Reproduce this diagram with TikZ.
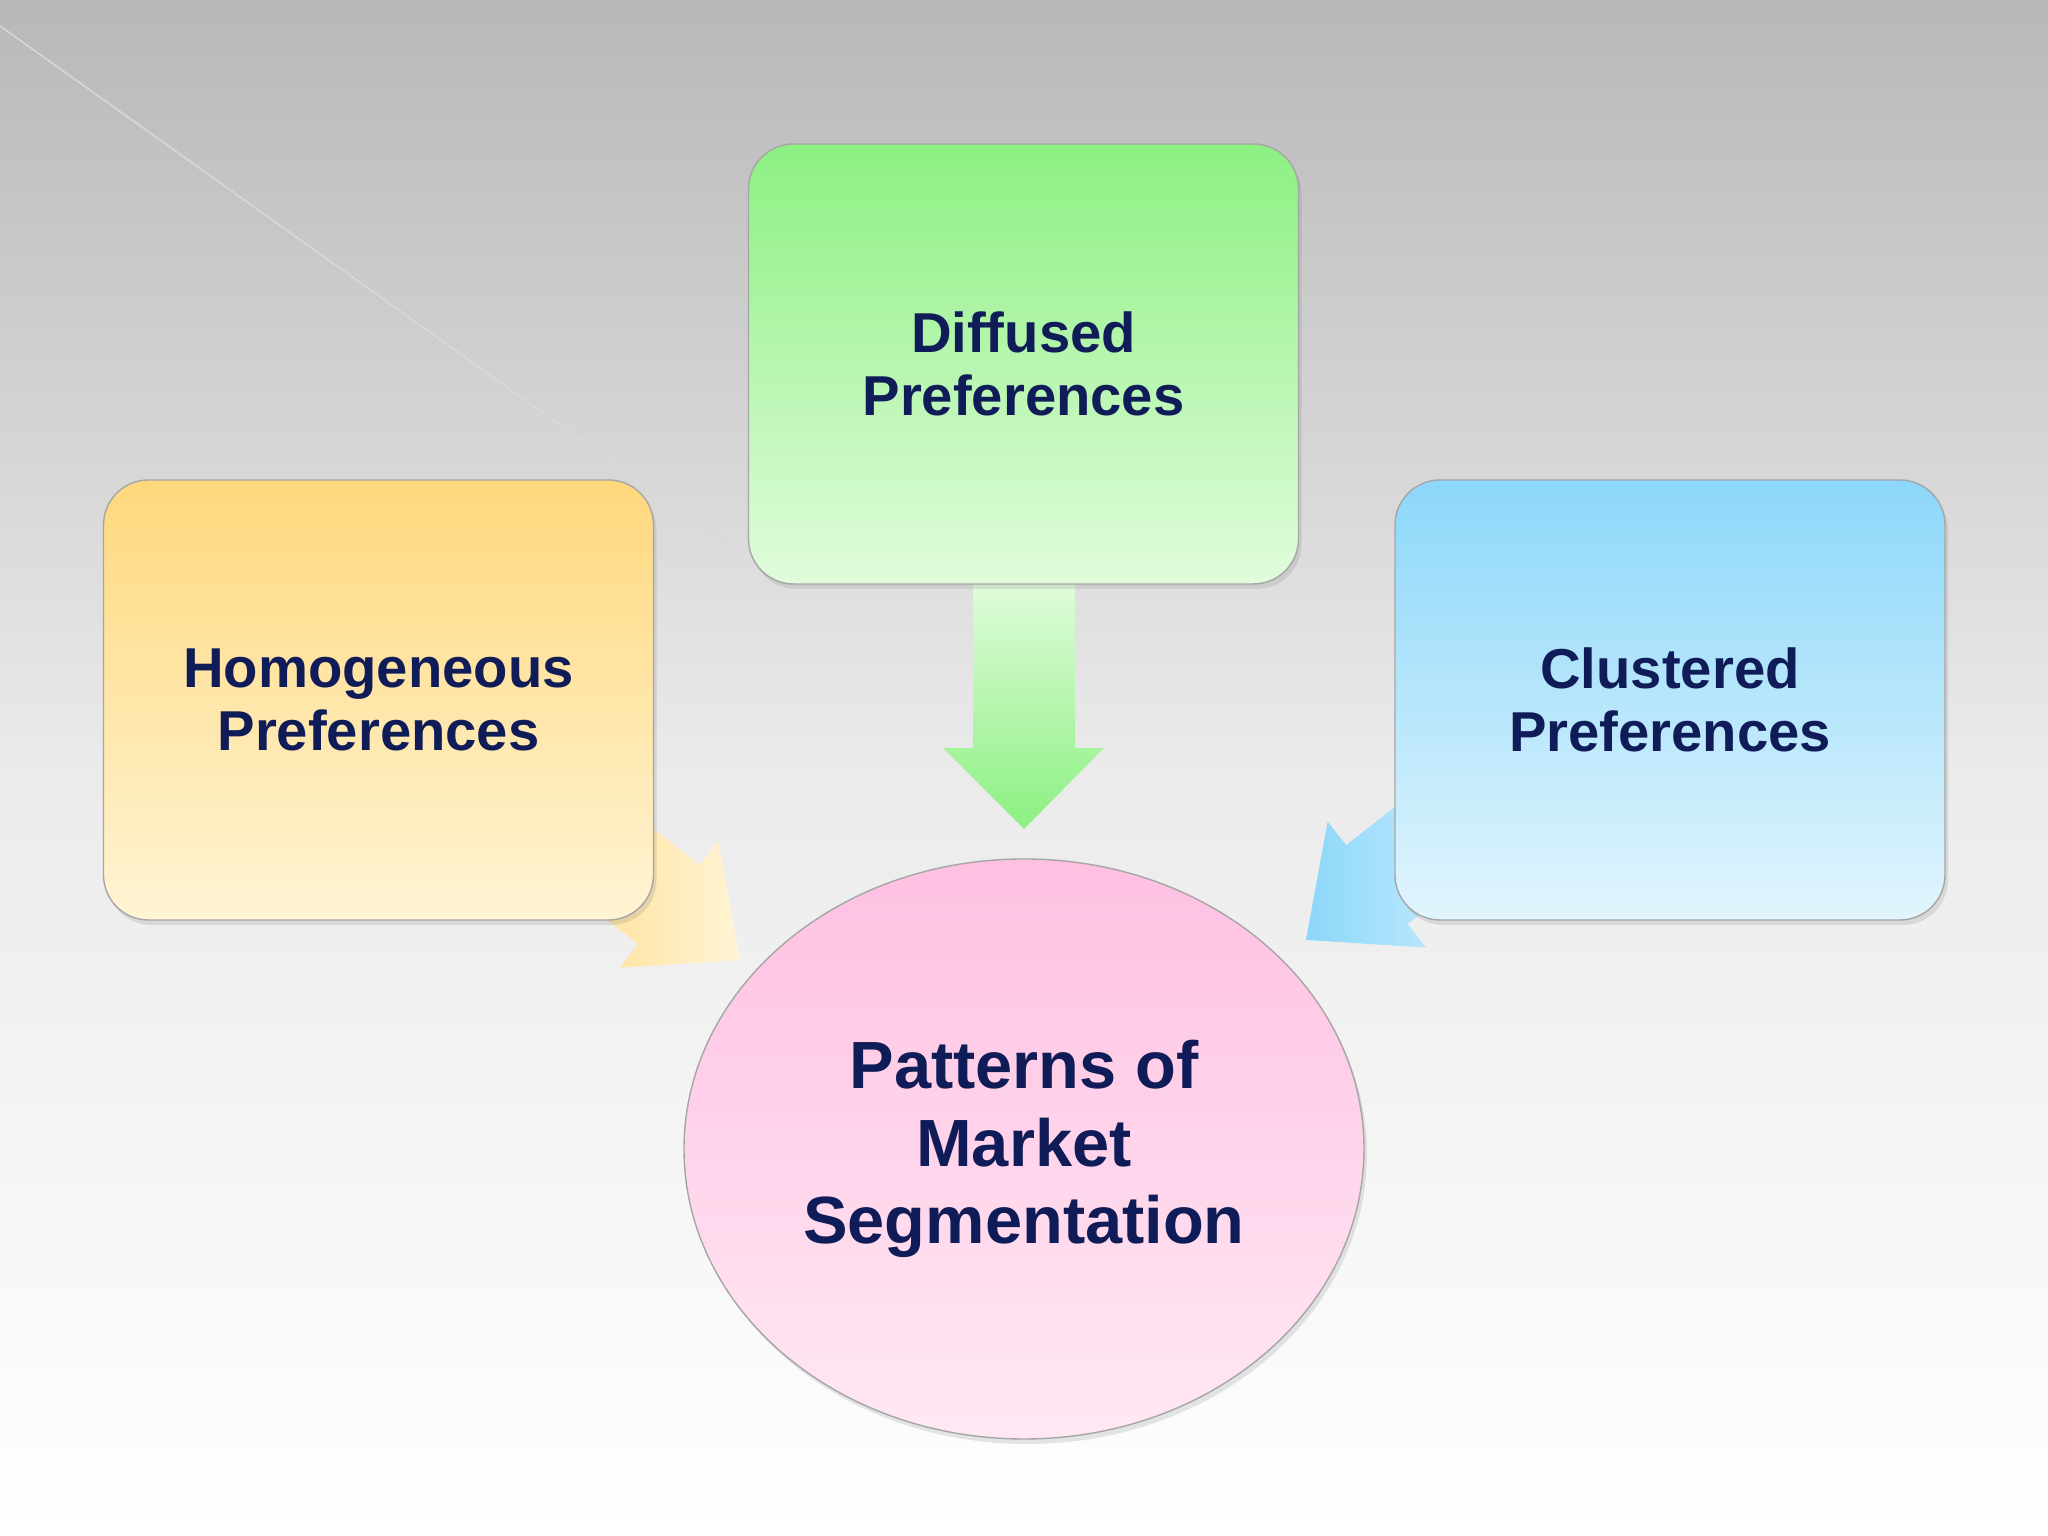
\documentclass[tikz,border=0pt]{standalone}
\usepackage{fontspec}
\setmainfont{Liberation Sans}
\usetikzlibrary{shadows,positioning,shapes.geometric}
\definecolor{navy}{RGB}{16,28,88}
\definecolor{sandtop}{RGB}{255,216,125}
\definecolor{sandbot}{RGB}{255,244,212}
\definecolor{leaftop}{RGB}{140,240,130}
\definecolor{leafbot}{RGB}{225,252,220}
\definecolor{skytop}{RGB}{140,215,250}
\definecolor{skybot}{RGB}{225,245,253}
\definecolor{pinktop}{RGB}{255,192,225}
\definecolor{pinkbot}{RGB}{255,232,244}
\tikzset{
  box/.style={draw=gray!70, rounded corners=0.45cm, minimum width=5.5cm, minimum height=4.4cm,
    text=navy, font=\fontsize{16}{18}\selectfont\bfseries, align=center,
    drop shadow={opacity=0.2, shadow xshift=0.03cm, shadow yshift=-0.05cm}},
  blockarrow/.style={draw=none}
}
\begin{document}
\begin{tikzpicture}
	\useasboundingbox (0,0) rectangle (20.48,15.36);
	% background
	\shade[top color=black!28, bottom color=white, middle color=black!8] (0,0) rectangle (20.48,15.36);
	\draw[white!85!black, line width=0.4pt] (0,15.1) -- (7.3,9.9);

	% arrows behind the boxes
	\begin{scope}[shift={(7.40,5.76)}, rotate=-38]
	  \shade[blockarrow, left color=sandtop, right color=sandbot]
	    (0,0) -- (-0.9,0.8) -- (-0.9,0.5) -- (-2.6,0.5) -- (-2.6,-0.5) -- (-0.9,-0.5) -- (-0.9,-0.8) -- cycle;
	\end{scope}
	\begin{scope}[shift={(13.06,5.96)}, rotate=-142]
	  \shade[blockarrow, left color=skytop, right color=skybot]
	    (0,0) -- (-0.9,0.8) -- (-0.9,0.5) -- (-2.6,0.5) -- (-2.6,-0.5) -- (-0.9,-0.5) -- (-0.9,-0.8) -- cycle;
	\end{scope}
	\shade[blockarrow, top color=leafbot, bottom color=leaftop]
	  (9.73,9.6) -- (10.75,9.6) -- (10.75,7.88) -- (11.04,7.88) -- (10.24,7.07)
	  -- (9.43,7.88) -- (9.73,7.88) -- cycle;

	% boxes
	\node[box, top color=sandtop, bottom color=sandbot] (homo) at (3.785,8.36) {Homogeneous\\Preferences};
	\node[box, top color=leaftop, bottom color=leafbot] (diff) at (10.235,11.72) {Diffused\\Preferences};
	\node[box, top color=skytop, bottom color=skybot] (clus) at (16.7,8.36) {Clustered\\Preferences};

	% circle
	\node[ellipse, draw=gray!70, minimum width=6.8cm, minimum height=5.8cm, inner sep=0pt,
	  top color=pinktop, bottom color=pinkbot,
	  drop shadow={opacity=0.2, shadow xshift=0.03cm, shadow yshift=-0.05cm},
	  text=navy, font=\fontsize{19}{22}\selectfont\bfseries, align=center] (seg) at (10.24,3.87)
	  {Patterns of\\Market\\Segmentation};
\end{tikzpicture}
\end{document}
